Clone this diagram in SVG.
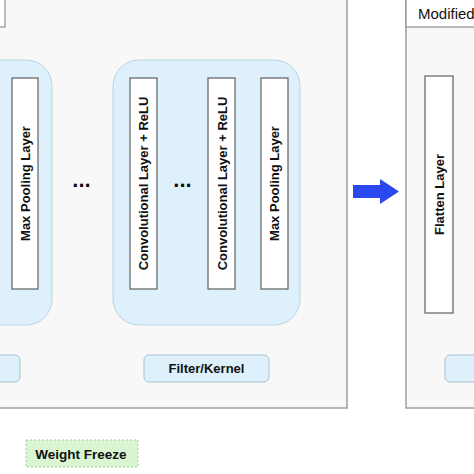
<svg xmlns="http://www.w3.org/2000/svg" width="474" height="474" viewBox="0 0 474 474">
<style>
.panel{fill:#f8f8f8;stroke:#a0a0a0;stroke-width:1.5}
.hdr{fill:#ffffff;stroke:#909090;stroke-width:1.2}
.grp{fill:#ddf0fc;stroke:#b9d3e3;stroke-width:1}
.layer{fill:#ffffff;stroke:#606060;stroke-width:1.2}
.tag{fill:#ddf0fc;stroke:#a9c1d1;stroke-width:1}
.t{font-family:"Liberation Sans",Arial,sans-serif;font-weight:bold;font-size:13px;fill:#111}
.dots{font-family:"Liberation Sans",Arial,sans-serif;font-weight:bold;font-size:22px;fill:#111}
</style>
<rect width="474" height="474" fill="#ffffff"/>
<g id="panel-left">
<rect class="panel" x="-20" y="-10" width="367" height="418"/>
<rect class="hdr" x="-20" y="-10" width="25" height="37"/>
</g>
<g id="panel-right">
<rect class="panel" x="406" y="-10" width="90" height="418"/>
<rect class="hdr" x="406" y="-10" width="90" height="37"/>
<text x="418" y="19" style="font-family:'Liberation Sans',Arial,sans-serif;font-size:15px;fill:#111">Modified</text>
</g>
<g id="group-1">
<rect class="grp" x="-200" y="60" width="252" height="265" rx="26"/>
</g>
<g id="group-2">
<rect class="grp" x="113" y="60" width="187" height="265" rx="26"/>
</g>
<g id="maxpool-1">
<rect class="layer" x="12" y="78" width="26" height="211"/>
<text class="t" text-anchor="middle" transform="translate(30,183.5) rotate(-90)">Max Pooling Layer</text>
</g>
<g id="dots-1"><text class="dots" x="81.5" y="187" text-anchor="middle">...</text></g>
<g id="conv-1">
<rect class="layer" x="130" y="78" width="27" height="211"/>
<text class="t" text-anchor="middle" transform="translate(148,183.5) rotate(-90)">Convolutional Layer + ReLU</text>
</g>
<g id="dots-2"><text class="dots" x="182.5" y="187" text-anchor="middle">...</text></g>
<g id="conv-2">
<rect class="layer" x="208" y="78" width="27" height="211"/>
<text class="t" text-anchor="middle" transform="translate(226.5,183.5) rotate(-90)">Convolutional Layer + ReLU</text>
</g>
<g id="maxpool-2">
<rect class="layer" x="261" y="78" width="27" height="211"/>
<text class="t" text-anchor="middle" transform="translate(279,183.5) rotate(-90)">Max Pooling Layer</text>
</g>
<g id="flatten">
<rect class="layer" x="425" y="76" width="28" height="237"/>
<text class="t" text-anchor="middle" transform="translate(444,194.5) rotate(-90)">Flatten Layer</text>
</g>
<g id="tag-left"><rect class="tag" x="-40" y="355" width="60" height="27" rx="5"/></g>
<g id="filter-kernel">
<rect class="tag" x="144" y="355" width="125" height="27" rx="5"/>
<text class="t" x="206.5" y="373" text-anchor="middle">Filter/Kernel</text>
</g>
<g id="tag-right"><rect class="tag" x="445" y="355" width="60" height="27" rx="5"/></g>
<g id="connectors">
<polygon points="353,185 380,185 380,179 399,191.5 380,204 380,198 353,198" fill="#2a48ee"/>
</g>
<g id="weight-freeze">
<rect x="26" y="440" width="112" height="27" fill="#d9f5d2" stroke="#9fcf98" stroke-width="1" stroke-dasharray="2,2"/>
<text class="t" x="81" y="459" text-anchor="middle" style="font-size:13.5px">Weight Freeze</text>
</g>
</svg>
